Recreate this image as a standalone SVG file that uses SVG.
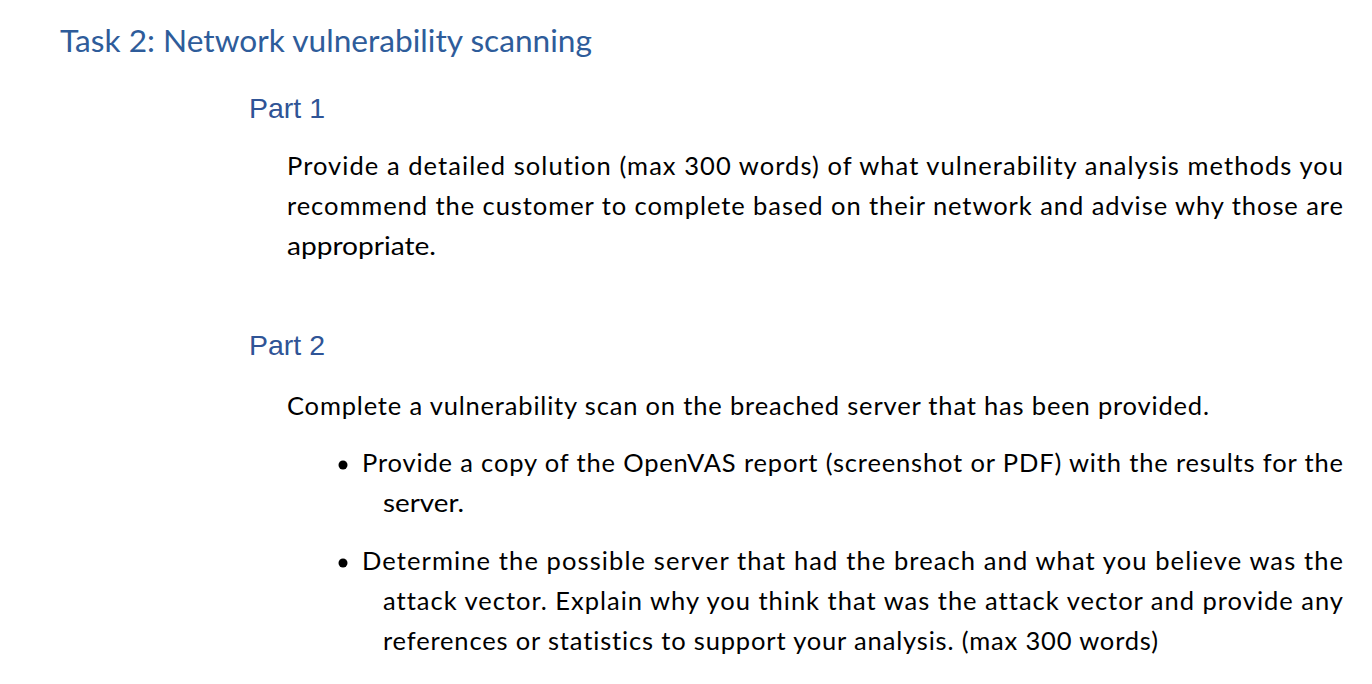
<svg xmlns="http://www.w3.org/2000/svg" width="1372" height="684" viewBox="0 0 1372 684">
<style>
.t{font-family:Lato,"Open Sans",sans-serif;font-size:30px;fill:#2e5c9a}
.h{font-family:"Liberation Sans",Arial,sans-serif;font-size:28.5px;fill:#2f5496}
.b{font-family:Lato,"Open Sans",sans-serif;font-size:25.5px;fill:#000;font-variant-ligatures:none}
</style>
<rect width="1372" height="684" fill="#fff"/>
<text class="t" x="60" y="52" textLength="532" lengthAdjust="spacingAndGlyphs">Task 2: Network vulnerability scanning</text>
<text class="h" x="249" y="118">Part 1</text>
<text class="b" x="287" y="175" textLength="1056" lengthAdjust="spacing">Provide a detailed solution (max 300 words) of what vulnerability analysis methods you</text>
<text class="b" x="287" y="215" textLength="1056" lengthAdjust="spacing">recommend the customer to complete based on their network and advise why those are</text>
<text class="b" x="287" y="255" textLength="149" lengthAdjust="spacingAndGlyphs">appropriate.</text>
<text class="h" x="249" y="355">Part 2</text>
<text class="b" x="287" y="415" textLength="922" lengthAdjust="spacing">Complete a vulnerability scan on the breached server that has been provided.</text>
<circle cx="343" cy="465" r="4.5" fill="#000"/>
<text class="b" x="362" y="472" textLength="981" lengthAdjust="spacing">Provide a copy of the OpenVAS report (screenshot or PDF) with the results for the</text>
<text class="b" x="383" y="512" textLength="81" lengthAdjust="spacingAndGlyphs">server.</text>
<circle cx="343" cy="563" r="4.5" fill="#000"/>
<text class="b" x="362" y="570" textLength="981" lengthAdjust="spacing">Determine the possible server that had the breach and what you believe was the</text>
<text class="b" x="383" y="610" textLength="960" lengthAdjust="spacing">attack vector. Explain why you think that was the attack vector and provide any</text>
<text class="b" x="383" y="650" textLength="775" lengthAdjust="spacing">references or statistics to support your analysis. (max 300 words)</text>
</svg>
